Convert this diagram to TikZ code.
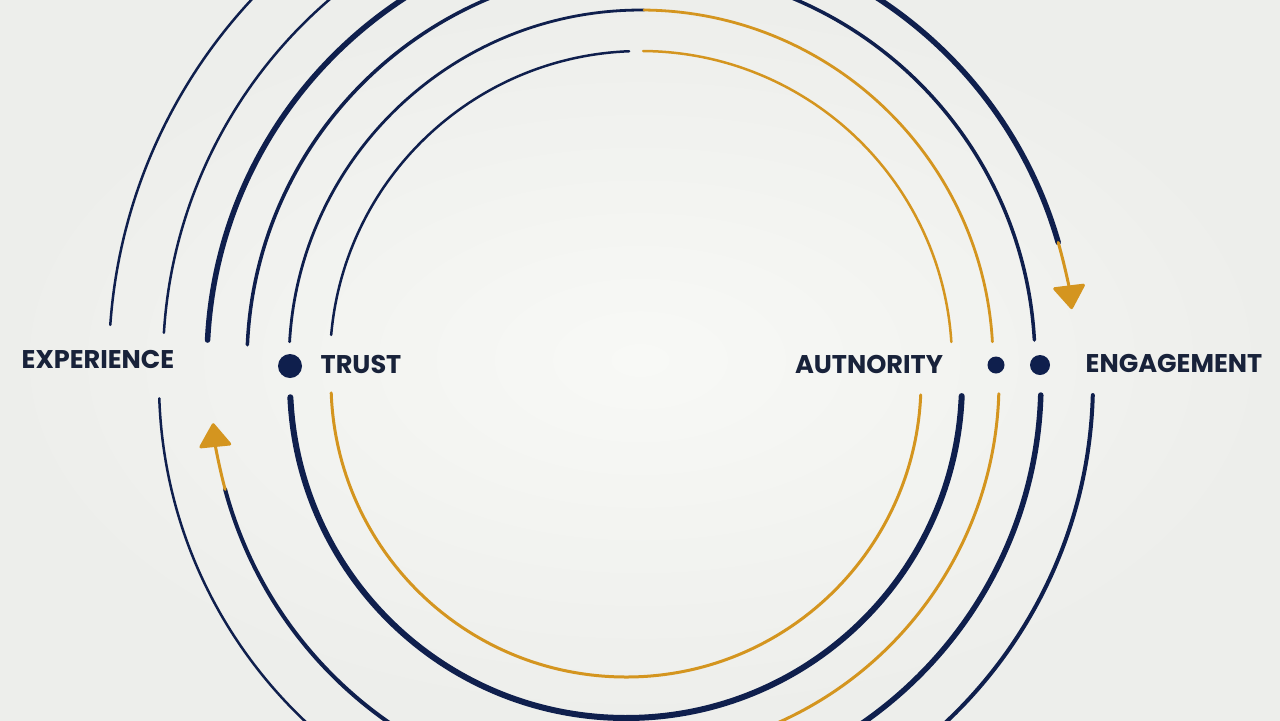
\documentclass[tikz,border=0pt]{standalone}
\usepackage{fontspec}
\setmainfont{Poppins}
\usetikzlibrary{arrows.meta}
\definecolor{navy}{HTML}{0F1F4D}
\definecolor{gold}{HTML}{D4951F}
\definecolor{ink}{HTML}{18223A}
\definecolor{bgin}{HTML}{F8F9F6}
\definecolor{bgout}{HTML}{EDEEEB}
\begin{document}
\begin{tikzpicture}[x=0.5pt,y=-0.5pt,
  navyline/.style={draw=navy, line cap=round},
  goldline/.style={draw=gold, line cap=round, line width=1.5pt},
  thinw/.style={line width=1.25pt},
  medw/.style={line width=1.75pt},
  thickw/.style={line width=2.75pt},
  goldtip/.style={-{Triangle[width=17pt,length=12.5pt,round]}},
  lab/.style={font=\bfseries\fontsize{12.8pt}{14pt}\selectfont, text=ink, inner sep=0pt},
  dot/.style={circle, fill=navy, inner sep=0pt}]
\useasboundingbox (0,0) rectangle (1280,720);
\shade[inner color=bgin, outer color=bgout] (0,0) rectangle (1280,720);
\begin{scope}
\clip (0,0) rectangle (1280,720);
\coordinate (ct) at (641,362);
\coordinate (cb) at (626,382);
% ---- upper arcs (centre ct)
% r = 311
\draw[navyline, thinw] ([shift={(185:311)}]ct) arc[start angle=185, end angle=267.8, radius=311];
\draw[goldline, line width=1.25pt] ([shift={(270.4:311)}]ct) arc[start angle=270.4, end angle=356.3, radius=311];
% r = 352
\draw[navyline, line width=1.4pt] ([shift={(183.3:352)}]ct) arc[start angle=183.3, end angle=270.5, radius=352];
\draw[goldline, line width=1.4pt] ([shift={(270.5:352)}]ct) arc[start angle=270.5, end angle=356.7, radius=352];
% r = 394
\draw[navyline, medw] ([shift={(182.5:394)}]ct) arc[start angle=182.5, end angle=356.8, radius=394];
% r = 434 with arrow
\draw[navyline, thickw] ([shift={(182.9:434)}]ct) arc[start angle=182.9, end angle=344, radius=434];
\draw[goldline, goldtip] ([shift={(344:434)}]ct) arc[start angle=344, end angle=353, radius=434];
% r = 478, 532
\draw[navyline, thinw] ([shift={(183.5:478)}]ct) arc[start angle=183.5, end angle=282, radius=478];
\draw[navyline, thinw] ([shift={(184:532)}]ct) arc[start angle=184, end angle=282, radius=532];
% ---- lower arcs (centre cb)
\draw[goldline] ([shift={(2.5:295)}]cb) arc[start angle=2.5, end angle=177.9, radius=295];
\draw[navyline, line width=3pt] ([shift={(2.4:336)}]cb) arc[start angle=2.4, end angle=177.4, radius=336];
\draw[goldline] ([shift={(1.8:373)}]cb) arc[start angle=1.8, end angle=75, radius=373];
\draw[navyline, thickw] ([shift={(1.8:415)}]cb) arc[start angle=1.8, end angle=90, radius=415];
\draw[navyline, line width=2pt] ([shift={(90:415)}]cb) arc[start angle=90, end angle=165, radius=415];
\draw[goldline, goldtip] ([shift={(165:415)}]cb) arc[start angle=165, end angle=174.3, radius=415];
\draw[navyline, line width=2pt] ([shift={(1.6:467)}]cb) arc[start angle=1.6, end angle=90, radius=467];
\draw[navyline, thinw] ([shift={(90:467)}]cb) arc[start angle=90, end angle=178, radius=467];
\end{scope}
% ---- labels and dots
\node[lab] (experience) at (98,359) {EXPERIENCE};
\node[lab] (trust) at (361,364) {TRUST};
\node[lab] (authority) at (869,364) {AUTNORITY};
\node[lab] (engagement) at (1174,363) {ENGAGEMENT};
\node[dot, minimum size=12pt] (trustdot) at (290,366) {};
\node[dot, minimum size=8.5pt] (dota) at (996,365) {};
\node[dot, minimum size=10pt] (dotb) at (1040,365) {};
\end{tikzpicture}
\end{document}
